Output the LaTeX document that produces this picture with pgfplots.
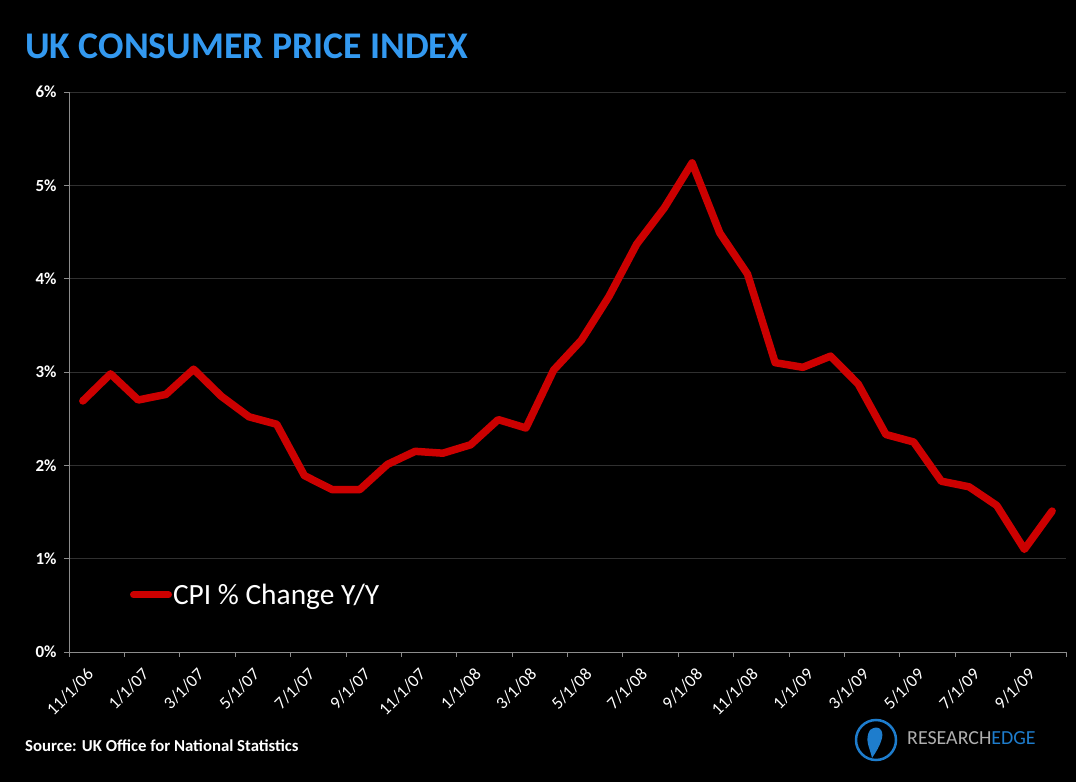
\documentclass[border=0pt]{standalone}
\usepackage{pgfplots}
\pgfplotsset{compat=1.18}
\usepackage{pgfplotstable}
\usepackage{fontspec}
\setmainfont{Carlito}
\definecolor{titleblue}{RGB}{51,153,240}
\definecolor{cpired}{RGB}{204,0,0}
\definecolor{gridgray}{RGB}{48,48,48}
\definecolor{axisgray}{RGB}{140,140,140}
\definecolor{logogray}{RGB}{175,175,175}
\definecolor{logoblue}{RGB}{30,125,205}

\pgfplotstableread{
idx cpi
0 2.69
1 2.98
2 2.70
3 2.76
4 3.03
5 2.74
6 2.52
7 2.44
8 1.89
9 1.74
10 1.74
11 2.01
12 2.15
13 2.13
14 2.22
15 2.49
16 2.40
17 3.02
18 3.34
19 3.81
20 4.37
21 4.76
22 5.24
23 4.49
24 4.05
25 3.10
26 3.05
27 3.17
28 2.87
29 2.33
30 2.25
31 1.83
32 1.77
33 1.57
34 1.10
35 1.51
}\cpidata

\begin{document}
\begin{tikzpicture}
\fill[black] (0bp,0bp) rectangle (1076bp,782bp);
\node[anchor=west, text=titleblue, font=\fontsize{37.8}{40}\selectfont\bfseries, inner sep=0pt] at (25bp,736bp) {UK CONSUMER PRICE INDEX};
\begin{axis}[
  at={(69bp,130bp)}, anchor=south west,
  scale only axis, width=997bp, height=560bp,
  xmin=-0.5, xmax=35.5, ymin=0, ymax=6,
  axis x line*=bottom, axis y line*=left,
  axis line style={axisgray, line width=0.8bp, -},
  tick align=outside,
  major tick length=5bp, minor tick length=5bp,
  xtick={0,2,...,34},
  xticklabels={11/1/06,1/1/07,3/1/07,5/1/07,7/1/07,9/1/07,11/1/07,1/1/08,3/1/08,5/1/08,7/1/08,9/1/08,11/1/08,1/1/09,3/1/09,5/1/09,7/1/09,9/1/09},
  minor xtick={-0.5,1.5,...,35.5},
  major x tick style={draw=none},
  minor x tick style={axisgray, line width=0.8bp},
  ytick={0,1,...,6},
  yticklabels={0\%,1\%,2\%,3\%,4\%,5\%,6\%},
  y tick style={axisgray, line width=0.8bp},
  ymajorgrids,
  major grid style={gridgray, line width=0.8bp},
  xticklabel style={text=white, font=\fontsize{17.5}{18}\selectfont, xshift=3bp, yshift=-7bp, rotate=45, anchor=north east, inner sep=2bp},
  yticklabel style={text=white, font=\fontsize{17}{18}\selectfont\bfseries, xshift=-4bp},
  legend style={at={(0.061,0.102)}, anchor=west, draw=none, fill=none, text=white,
    font=\fontsize{29.5}{31}\selectfont, inner sep=0pt, nodes={inner sep=1bp}},
  legend image code/.code={\draw[#1, line width=7bp] (0bp,0bp) -- (35bp,0bp);},
]
\addplot[cpired, line width=7.5bp, line join=round, line cap=round] table[x=idx,y=cpi]{\cpidata};
\legend{CPI \% Change Y/Y}
\end{axis}
\node[anchor=base west, text=white, font=\fontsize{16.8}{18}\selectfont\bfseries, inner sep=0pt] at (25bp,31bp) {Source: UK Office for National Statistics};
\draw[logoblue, line width=2.5bp] (876bp,42bp) circle (20bp);
\fill[logoblue] (870bp,52bp) .. controls (878bp,58bp) and (884bp,52bp) .. (882bp,44bp) .. controls (880bp,36bp) and (876bp,30bp) .. (872bp,24bp) .. controls (870bp,34bp) and (864bp,42bp) .. (870bp,52bp) -- cycle;
\node[anchor=west, inner sep=0pt, font=\fontsize{20}{22}\selectfont] at (907bp,44bp) {\textcolor{logogray}{RESEARCH}\textcolor{logoblue}{EDGE}};
\end{tikzpicture}
\end{document}
